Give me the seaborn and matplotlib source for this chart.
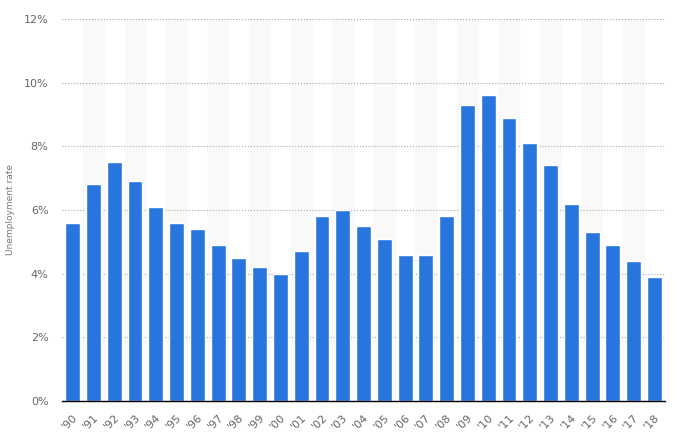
import seaborn as sns
import matplotlib.pyplot as plt
import pandas as pd

years = ["'90", "'91", "'92", "'93", "'94", "'95", "'96", "'97", "'98", "'99",
         "'00", "'01", "'02", "'03", "'04", "'05", "'06", "'07", "'08", "'09",
         "'10", "'11", "'12", "'13", "'14", "'15", "'16", "'17", "'18"]
rate = [5.6, 6.8, 7.5, 6.9, 6.1, 5.6, 5.4, 4.9, 4.5, 4.2,
        4.0, 4.7, 5.8, 6.0, 5.5, 5.1, 4.6, 4.6, 5.8, 9.3,
        9.6, 8.9, 8.1, 7.4, 6.2, 5.3, 4.9, 4.4, 3.9]

df = pd.DataFrame({'year': years, 'rate': rate})

sns.set_style('white')
fig = plt.figure(figsize=(6.77, 4.37), dpi=100)
ax = fig.add_axes([0.092, 0.082, 0.89, 0.875])

# light alternating column shading
for i in range(1, len(years), 2):
    ax.axvspan(i - 0.5, i + 0.5, color='#f9f9f9', zorder=0)

sns.barplot(data=df, x='year', y='rate', color='#2876dd', saturation=1,
            width=0.72, ax=ax, zorder=2)

ax.set_xlim(-0.5, len(years) - 0.5)
ax.set_ylim(0, 12)
ax.set_yticks(range(0, 13, 2))
ax.set_yticklabels([f'{v}%' for v in range(0, 13, 2)])
ax.grid(axis='y', linestyle=':', color='#aaaaaa', linewidth=0.8, zorder=1)
ax.set_axisbelow(True)

for s in ['top', 'right', 'left']:
    ax.spines[s].set_visible(False)
ax.spines['bottom'].set_color('black')
ax.spines['bottom'].set_linewidth(1)

ax.tick_params(axis='x', labelrotation=45, labelsize=8, colors='#666666', length=0, pad=8)
ax.tick_params(axis='y', labelsize=8, colors='#666666', length=0, pad=10)
for lbl in ax.get_xticklabels():
    lbl.set_ha('right')
    lbl.set_rotation_mode('anchor')
    lbl.set_color('#666666')

ax.set_xlabel('')
ax.set_ylabel('Unemployment rate', fontsize=6.5, color='#777777', labelpad=6)

fig.savefig('out.png', dpi=100)
